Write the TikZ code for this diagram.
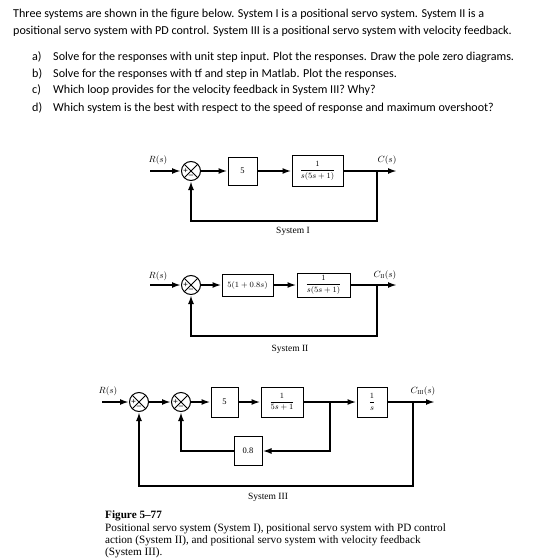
\documentclass[tikz,border=0pt]{standalone}
\usepackage{fontspec}
\setmainfont{Liberation Serif}
\newfontfamily\hdfont{Carlito}
\usetikzlibrary{arrows.meta}

\tikzset{
    blk/.style={draw,line width=1pt,inner sep=1pt,font=\fontsize{8.5}{9}\selectfont},
    sumj/.style={circle,draw,line width=1pt,minimum size=19pt,inner sep=0pt,
        path picture={
            \draw[line width=0.8pt] (path picture bounding box.north west) -- (path picture bounding box.south east)
                (path picture bounding box.south west) -- (path picture bounding box.north east);
        }},
    sgn/.style={font=\bfseries\fontsize{8.5}{8.5}\selectfont,inner sep=0pt},
    sig/.style={line width=2pt,-{Latex[length=9pt,width=6pt]}},
    lbl/.style={font=\fontsize{9}{10}\selectfont,inner sep=0pt},
    hd/.style={anchor=base west,inner sep=0pt,font=\hdfont\fontsize{12.1}{13}\selectfont},
    captxt/.style={anchor=base west,inner sep=0pt,font=\fontsize{11.2}{12}\selectfont},
}

\begin{document}
\begin{tikzpicture}[x=1pt,y=-1pt]
    \useasboundingbox (0,0) rectangle (552,559);

    % question text
    \node[hd] (t1) at (13,18) {Three systems are shown in the figure below. System I is a positional servo system. System II is a};
    \node[hd] (t2) at (13,35) {positional servo system with PD control. System III is a positional servo system with velocity feedback.};
    \node[hd] (qa) at (32,61) {a)};
    \node[hd] (qb) at (32,78) {b)};
    \node[hd] (qc) at (32,94) {c)};
    \node[hd] (qd) at (32,111) {d)};
    \node[hd] (qat) at (53,61) {Solve for the responses with unit step input. Plot the responses. Draw the pole zero diagrams.};
    \node[hd] (qbt) at (53,78) {Solve for the responses with tf and step in Matlab. Plot the responses.};
    \node[hd] (qct) at (53,94) {Which loop provides for the velocity feedback in System III? Why?};
    \node[hd] (qdt) at (53,111) {Which system is the best with respect to the speed of response and maximum overshoot?};

    % System I
    \node[sumj] (s1) at (191,171) {};
    \node[blk,minimum width=29pt,minimum height=28pt] (g1a) at (242.5,171) {5};
    \node[blk,minimum width=51pt,minimum height=31pt] (g1b) at (317.5,171) {$\displaystyle\frac{1}{s(5s+1)}$};
    \coordinate (r1) at (150,171);
    \coordinate (b1) at (377,171);
    \coordinate (c1) at (397,171);
    \coordinate (f1) at (377,221);
    \draw[sig] (r1) -- (s1);
    \draw[sig] (s1) -- (g1a);
    \draw[sig] (g1a) -- (g1b);
    \draw[sig] (g1b) -- (c1);
    \draw[sig] (b1) -- (f1) -| (s1);
    \node[lbl] (r1l) at (158,160) {$R(s)$};
    \node[lbl] (c1l) at (387,160) {$C(s)$};
    \node[lbl,font=\fontsize{9.5}{10}\selectfont] (n1) at (293,231) {System I};

    % System II
    \node[sumj] (s2) at (191,285) {};
    \node[blk,minimum width=51pt,minimum height=22pt] (g2a) at (247.5,285) {$5(1+0.8s)$};
    \node[blk,minimum width=53pt,minimum height=24pt] (g2b) at (323.5,285) {$\displaystyle\frac{1}{s(5s+1)}$};
    \coordinate (r2) at (150,285);
    \coordinate (b2) at (377,285);
    \coordinate (c2) at (397,285);
    \coordinate (f2) at (377,336);
    \draw[sig] (r2) -- (s2);
    \draw[sig] (s2) -- (g2a);
    \draw[sig] (g2a) -- (g2b);
    \draw[sig] (g2b) -- (c2);
    \draw[sig] (b2) -- (f2) -| (s2);
    \node[lbl] (r2l) at (158,276) {$R(s)$};
    \node[lbl] (c2l) at (385,275) {$C_{\mathrm{II}}(s)$};
    \node[lbl,font=\fontsize{9.5}{10}\selectfont] (n2) at (290,349) {System II};

    % System III
    \node[sumj] (s3a) at (139,402) {};
    \node[sumj] (s3b) at (181,402) {};
    \node[blk,minimum width=27pt,minimum height=30pt] (g3a) at (224.5,402) {5};
    \node[blk,minimum width=42pt,minimum height=30pt] (g3b) at (282,402) {$\displaystyle\frac{1}{5s+1}$};
    \node[blk,minimum width=30pt,minimum height=30pt] (g3c) at (372,402) {$\displaystyle\frac{1}{s}$};
    \node[blk,minimum width=28pt,minimum height=29pt] (k3) at (248,451) {0.8};
    \coordinate (r3) at (102,402);
    \coordinate (b3a) at (330,402);
    \coordinate (b3b) at (413,402);
    \coordinate (c3) at (435,402);
    \coordinate (f3a) at (330,451);
    \coordinate (f3b) at (413,486);
    \draw[sig] (r3) -- (s3a);
    \draw[sig] (s3a) -- (s3b);
    \draw[sig] (s3b) -- (g3a);
    \draw[sig] (g3a) -- (g3b);
    \draw[sig] (g3b) -- (g3c);
    \draw[sig] (g3c) -- (c3);
    \draw[sig] (b3a) -- (f3a) -- (k3);
    \draw[sig] (k3) -| (s3b);
    \draw[sig] (b3b) -- (f3b) -| (s3a);
    \node[lbl] (r3l) at (108,391) {$R(s)$};
    \node[lbl] (c3l) at (423,391) {$C_{\mathrm{III}}(s)$};
    \node[lbl,font=\fontsize{9.5}{10}\selectfont] (n3) at (268,497) {System III};

    % signs on the summing points
    \foreach \s in {s1,s2,s3a,s3b} {
        \node[sgn] (\s p) at ([xshift=-5.5pt]\s.center) {+};
        \node[sgn] (\s m) at ([yshift=-5.5pt]\s.center) {–};
    }

    % caption
    \node[captxt,font=\bfseries\fontsize{11.2}{12}\selectfont] (fg) at (105,518) {Figure 5--77};
    \node[captxt] (cp1) at (105,531) {Positional servo system (System I), positional servo system with PD control};
    \node[captxt] (cp2) at (105,543) {action (System II), and positional servo system with velocity feedback};
    \node[captxt] (cp3) at (105,555) {(System III).};
\end{tikzpicture}
\end{document}
